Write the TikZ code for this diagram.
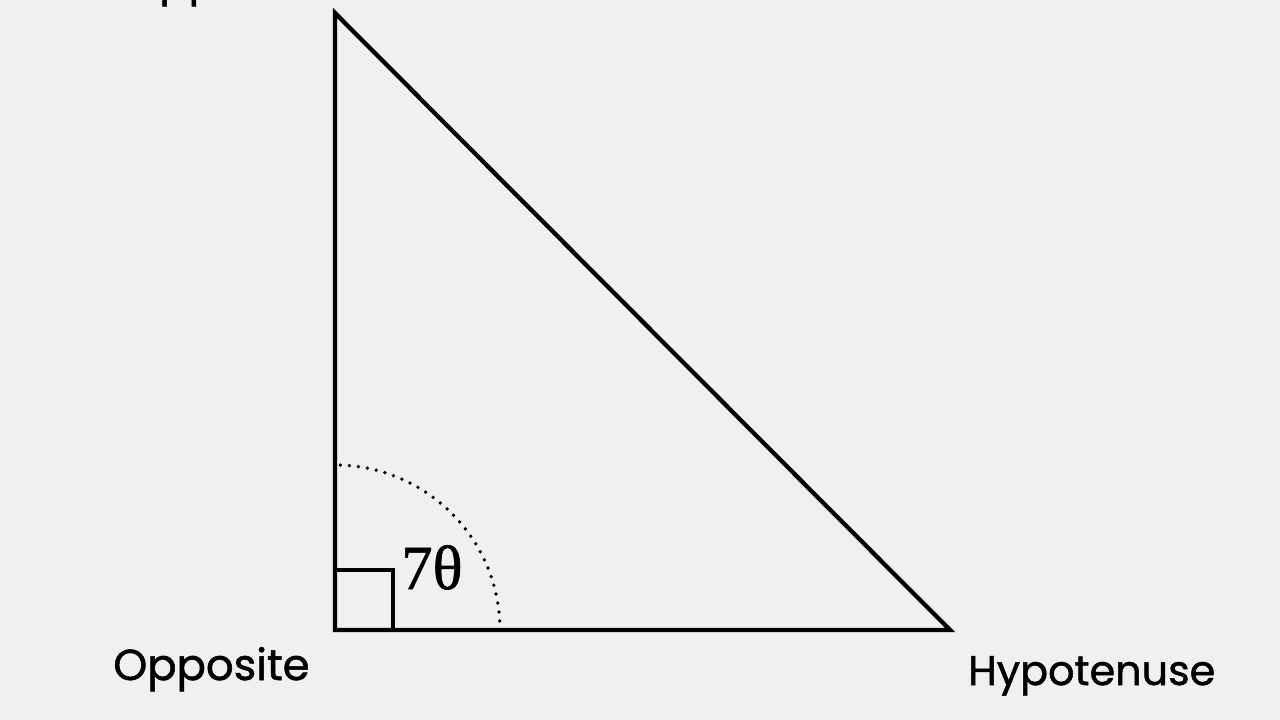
\documentclass[tikz,border=0pt]{standalone}
\usepackage{fontspec}
\usepackage{xcolor}
\usepackage{tikz}
\setmainfont{Poppins}
\newfontfamily\labelfont{Poppins}[RawFeature={embolden=1.2}]
\newfontfamily\thetafont{Liberation Serif}[RawFeature={embolden=1.0}]
\definecolor{paper}{RGB}{240,240,240}
\tikzset{
  leg/.style={line width=3.2pt, line join=miter},
  lbl/.style={anchor=base west, inner sep=0pt, font=\labelfont\fontsize{32.5}{36}\selectfont},
}
\begin{document}
\begin{tikzpicture}[x=0.75pt,y=0.75pt,yscale=-1,xscale=1]
% background
\fill[paper] (0,0) rectangle (1280,720);
\useasboundingbox (0,0) rectangle (1280,720);
\clip (0,0) rectangle (1280,720);
% corners
\coordinate (top) at (335,13);
\coordinate (rgt) at (335,630);
\coordinate (end) at (950,630);
%Straight Lines
\draw [leg] (top) -- (rgt) -- (end) -- cycle;
%Right angle mark
\draw [line width=2.8pt] (335,570) -- (393,570) -- (393,630);
%Dotted arc
\draw [line width=2.8pt, line cap=round, dash pattern=on 0pt off 6.8pt] (500,630) arc [start angle=0, end angle=-90, radius=165];
% Text Node
\node (ang) [anchor=base west, inner sep=0pt, font=\thetafont\fontsize{47}{50}\selectfont] at (401,589) {7θ};
% Text Node
\node (oppTop) [lbl] at (125,-5) {Opposite};
% Text Node
\node (opp) [lbl] at (113,680) {Opposite};
% Text Node
\node (hyp) [lbl, font=\labelfont\fontsize{31}{34}\selectfont] at (968,685) {Hypotenuse};
\end{tikzpicture}
\end{document}
